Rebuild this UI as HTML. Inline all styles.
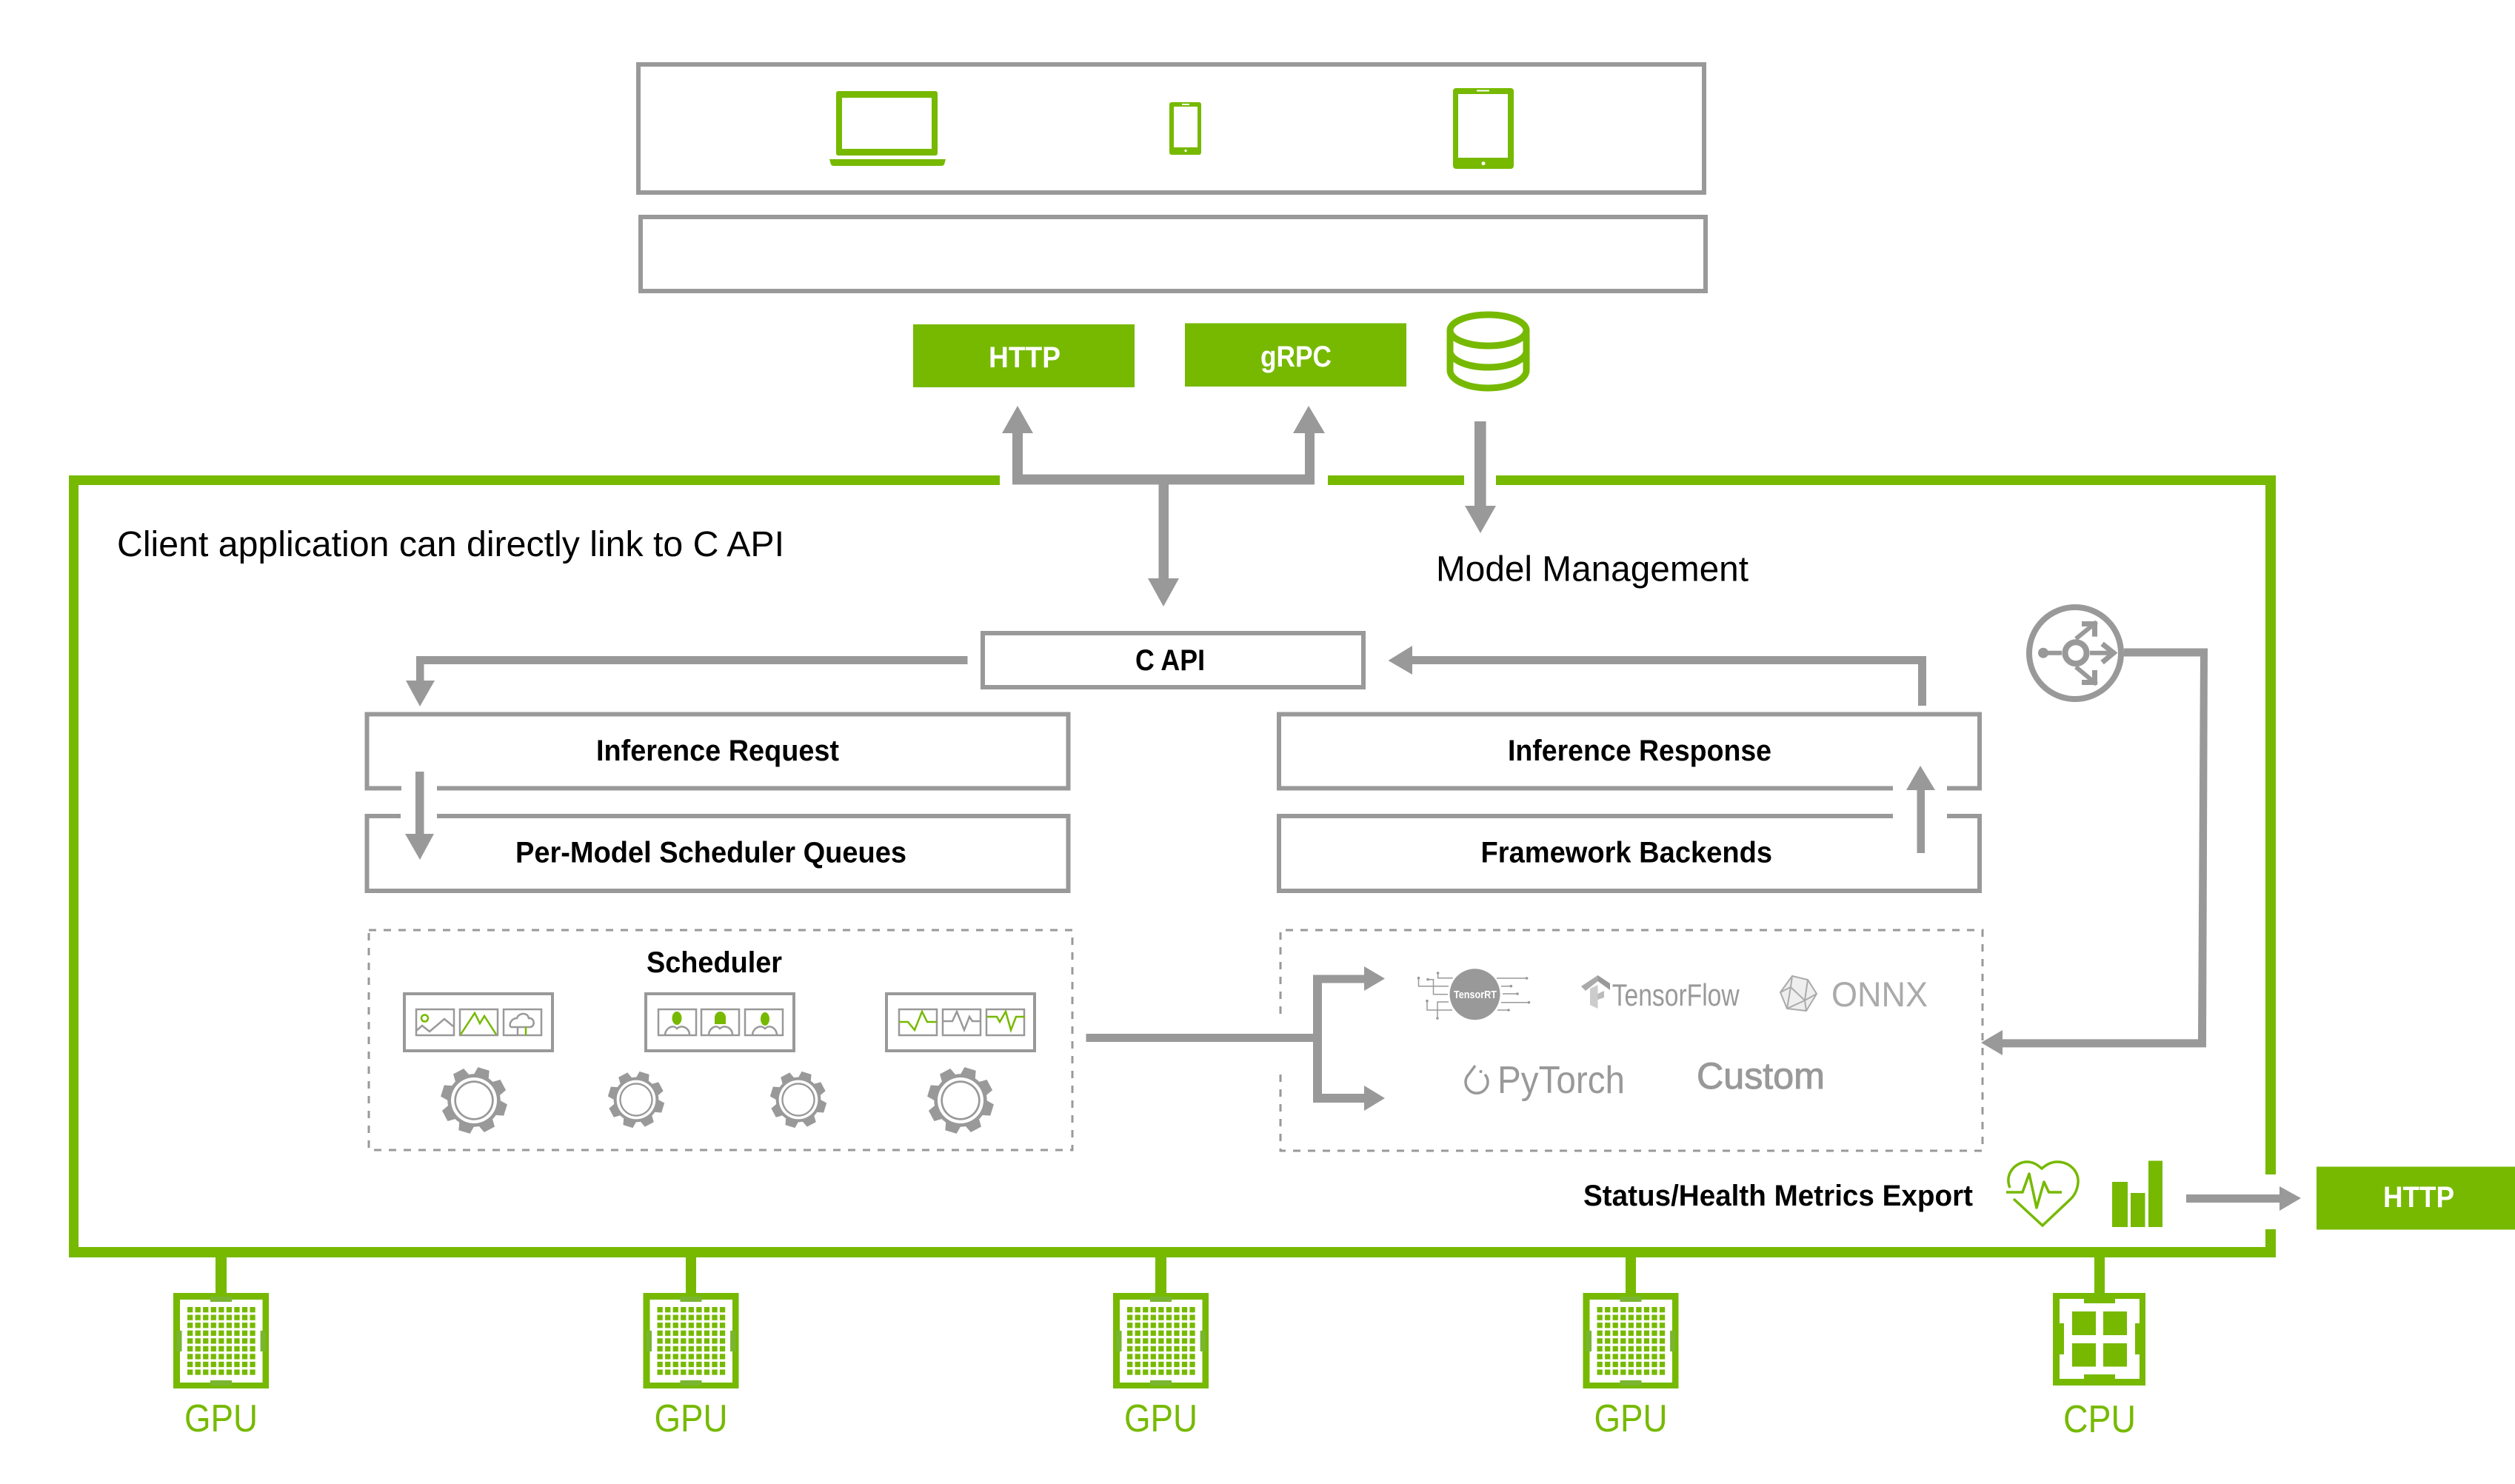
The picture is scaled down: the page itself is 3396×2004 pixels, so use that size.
<!DOCTYPE html>
<html><head><meta charset="utf-8"><style>
html,body{margin:0;padding:0;background:#fff}
svg{display:block}
text{font-family:"Liberation Sans",sans-serif}
.b{font-weight:bold;font-size:40px;fill:#000}
.r{font-size:48px;fill:#000}
.g{font-size:52px;fill:#76b900}
.w{font-weight:bold;font-size:40px;fill:#fff}
</style></head><body>
<svg width="3396" height="2004" viewBox="0 0 3396 2004" xmlns="http://www.w3.org/2000/svg">
<defs>
<pattern id="grid" patternUnits="userSpaceOnUse" x="253" y="1765" width="10.55" height="10.55"><rect width="7.3" height="7.3" fill="#76b900"/></pattern>
<g id="gpu">
 <rect x="234" y="1746" width="129" height="129" fill="#76b900"/>
 <rect x="243" y="1755" width="111.5" height="112" fill="#fff"/>
 <rect x="253" y="1765" width="92" height="92" fill="url(#grid)"/>
 <g fill="#7ab530"><rect x="284" y="1751" width="29" height="7"/><rect x="284" y="1864" width="29" height="7"/><rect x="238.5" y="1797" width="7" height="28"/><rect x="351.6" y="1797" width="7" height="28"/></g>
</g>
<polygon id="t" points="-10.5,-33 -8,-44.5 8,-44.5 10.5,-33" fill="#999"/>
<g id="gear">
 <use href="#t" transform="rotate(17)"/><use href="#t" transform="rotate(62)"/><use href="#t" transform="rotate(107)"/><use href="#t" transform="rotate(152)"/><use href="#t" transform="rotate(197)"/><use href="#t" transform="rotate(242)"/><use href="#t" transform="rotate(287)"/><use href="#t" transform="rotate(332)"/>
 <circle r="35.7" fill="#999"/><circle r="31" fill="#fff"/><circle r="26.7" fill="#999"/><circle r="24" fill="#fff"/>
</g>
</defs>
<rect width="3396" height="2004" fill="#fff"/>

<!-- top boxes -->
<g fill="none" stroke="#999" stroke-width="6">
 <rect x="862" y="87" width="1439" height="173"/>
 <rect x="865" y="293" width="1438" height="100"/>
</g>
<!-- devices -->
<g fill="#76b900">
 <rect x="1129" y="123" width="137" height="87" rx="3"/><rect x="1137" y="132" width="121" height="69" fill="#fff"/>
 <path d="M1120,215H1277L1275,222Q1274,224 1271,224H1126Q1123,224 1122,222Z"/>
 <rect x="1579" y="138" width="43" height="71" rx="3"/><rect x="1585" y="144" width="32" height="55" fill="#fff"/>
 <rect x="1596" y="140" width="10" height="2" fill="#fff"/><circle cx="1601" cy="203.5" r="1.6" fill="#fff"/>
 <rect x="1962" y="119" width="82" height="109" rx="4"/><rect x="1969" y="127" width="67" height="86" fill="#fff"/>
 <rect x="1994" y="121.500" width="17" height="2" fill="#fff"/><circle cx="2003" cy="220.700" r="2.500" fill="#fff"/>
</g>
<!-- HTTP/gRPC -->
<rect x="1233" y="438" width="299" height="85" fill="#76b900"/>
<rect x="1600" y="436.500" width="299" height="85.500" fill="#76b900"/>
<text class="w" x="1335" y="496" textLength="97" lengthAdjust="spacingAndGlyphs">HTTP</text>
<text class="w" x="1702" y="495" textLength="96" lengthAdjust="spacingAndGlyphs">gRPC</text>
<!-- DB -->
<g fill="none" stroke="#76b900" stroke-width="9">
 <ellipse cx="2009.500" cy="446" rx="51.500" ry="21"/>
 <path d="M1958,446V500A51.500,24 0 0 0 2061,500V446"/>
 <path d="M1958,474A51.500,22 0 0 0 2061,474"/>
</g>

<!-- outer green frame -->
<g fill="#76b900">
 <rect x="93" y="642" width="1257" height="13"/>
 <rect x="1793" y="642" width="184" height="13"/>
 <rect x="2020" y="642" width="1053" height="13"/>
 <rect x="93" y="642" width="13" height="1055"/>
 <rect x="93" y="1684" width="2980" height="14"/>
 <rect x="3059" y="642" width="14" height="944"/>
 <rect x="3059" y="1660" width="14" height="38"/>
 <rect x="291" y="1697" width="15" height="50"/>
 <rect x="926" y="1697" width="14" height="50"/>
 <rect x="1560" y="1697" width="15" height="50"/>
 <rect x="2195" y="1697" width="14" height="50"/>
 <rect x="2828" y="1697" width="14" height="50"/>
</g>

<!-- top arrows -->
<g fill="#999">
 <path d="M1367,585H1353L1374,548L1395,585H1381V640.600H1762V585H1746L1767,548L1789,585H1775V654.400H1578V781H1592L1571,819L1550,781H1564.500V654.400H1367Z"/>
 <path d="M1991,569H2006.600V683H2020L1999,720L1978,683H1991Z"/>
</g>

<text class="r" x="158" y="751" textLength="901" lengthAdjust="spacingAndGlyphs">Client application can directly link to C API</text>
<text class="r" x="1939" y="784.500" textLength="422" lengthAdjust="spacingAndGlyphs">Model Management</text>

<!-- boxes -->
<g fill="#fff" stroke="#999" stroke-width="6">
 <rect x="1327" y="855" width="514" height="73"/>
 <rect x="495.500" y="964.500" width="947" height="100"/>
 <rect x="495.500" y="1102" width="947" height="101"/>
 <rect x="1727" y="964.500" width="946" height="100"/>
 <rect x="1727" y="1102" width="946" height="101"/>
</g>
<g fill="#fff">
 <rect x="542" y="1058" width="48" height="12"/>
 <rect x="541" y="1096" width="49" height="12"/>
 <rect x="2556" y="1058" width="73" height="12"/>
 <rect x="2556" y="1096" width="73" height="12"/>
</g>
<text class="b" x="1533" y="905" textLength="94" lengthAdjust="spacingAndGlyphs">C API</text>
<text class="b" x="805" y="1027" textLength="328" lengthAdjust="spacingAndGlyphs">Inference Request</text>
<text class="b" x="696" y="1164.500" textLength="528" lengthAdjust="spacingAndGlyphs">Per-Model Scheduler Queues</text>
<text class="b" x="2036" y="1027" textLength="356" lengthAdjust="spacingAndGlyphs">Inference Response</text>
<text class="b" x="1999.500" y="1164.500" textLength="393.500" lengthAdjust="spacingAndGlyphs">Framework Backends</text>

<!-- arrows in inner -->
<g fill="#999">
 <path d="M1306.500,886V897H572.500V919H587L567,954L548,919H562V886Z"/>
 <path d="M561,1042H572.500V1126H586L567,1161L547,1126H561Z"/>
 <path d="M1874.500,892L1907,872V886H2601V953H2590V897H1907V911Z"/>
 <path d="M2588.500,1152V1067H2574L2593,1034L2613,1067H2599V1152Z"/>
 <path d="M1466.500,1396H1773V1316.500H1842V1305L1870,1321.500L1842,1338V1327.500H1785V1477H1842V1466L1870,1483L1842,1500V1489H1773V1407H1466.500Z"/>
 <path d="M2868,875.500H2981L2979,1414.400H2704V1425L2675,1408L2704,1391V1403.400H2968L2971,886.500H2868Z"/>
 <path d="M2952,1613H3078V1602L3107,1618L3078,1635V1624H2952Z"/>
</g>

<!-- dashed -->
<g fill="none" stroke="#999" stroke-width="3" stroke-dasharray="10 10">
 <rect x="498" y="1256" width="950" height="297"/>
 <path d="M1729,1369V1256H2677V1554H1729V1445"/>
</g>
<text class="b" x="873" y="1313" textLength="183" lengthAdjust="spacingAndGlyphs">Scheduler</text>

<!-- mini boxes -->
<g fill="none" stroke="#999" stroke-width="4">
 <rect x="546" y="1342" width="200" height="77"/>
 <rect x="872" y="1342" width="200" height="77"/>
 <rect x="1197" y="1342" width="200" height="77"/>
</g>
<g fill="none" stroke="#999" stroke-width="2.500">
 <rect x="562" y="1363" width="51" height="35"/><rect x="621" y="1363" width="51" height="35"/><rect x="680" y="1363" width="51" height="35"/>
 <rect x="889" y="1363" width="51" height="35"/><rect x="947" y="1363" width="51" height="35"/><rect x="1006" y="1363" width="51" height="35"/>
 <rect x="1214" y="1363" width="51" height="35"/><rect x="1273" y="1363" width="51" height="35"/><rect x="1332" y="1363" width="51" height="35"/>
</g>
<g fill="none" stroke-width="2.500" stroke="#999">
 <polyline points="562,1392 570,1385 580,1393 600,1376 612,1386"/>
 <circle cx="573.500" cy="1375" r="4.500" stroke="#76b900"/>
 <polyline points="622,1397 641,1368 648,1382 654,1372 670,1397" stroke="#76b900"/>
 <path d="M691,1387C686,1387 689,1375 698,1375C700,1368 712,1366 714,1375C722,1374 723,1386 716,1387Z"/>
 <line x1="699" y1="1387" x2="699" y2="1398"/>
 <line x1="710" y1="1387" x2="710" y2="1398" stroke="#76b900"/>
 <path d="M898,1397C899,1388 909,1383 914,1389C920,1383 931,1388 931,1397"/>
 <path d="M957,1397C958,1388 967,1383 972,1389C978,1383 989,1388 989,1397"/>
 <path d="M1016,1397C1017,1388 1027,1383 1033,1389C1039,1383 1048,1388 1049,1397"/>
 <polyline stroke="#76b900" points="1214,1380 1226,1380 1235,1391 1245,1366 1252,1380 1265,1380"/>
 <polyline points="1273,1379 1286,1379 1292,1366 1302,1391 1309,1373 1313,1379 1324,1379"/>
 <polyline stroke="#76b900" points="1333,1373 1346,1373 1350,1380 1358,1366 1365,1391 1372,1373 1384,1373"/>
</g>
<g fill="#76b900">
 <ellipse cx="914" cy="1375" rx="6.500" ry="9"/>
 <path d="M965,1383V1374A7.500,8 0 0 1 980,1374V1383Z"/>
 <ellipse cx="1033" cy="1376" rx="6" ry="9"/>
</g>
<use href="#gear" transform="translate(640 1486)"/>
<use href="#gear" transform="translate(859 1485) scale(.85)"/>
<use href="#gear" transform="translate(1078 1485) scale(.85)"/>
<use href="#gear" transform="translate(1297 1486)"/>

<!-- TensorRT -->
<g fill="none" stroke="#999" stroke-width="1.500">
 <path d="M1915.500,1320.700V1331.700H1956"/>
 <path d="M1928,1322.700H1935.500V1342.700H1955"/>
 <path d="M1941.600,1314V1320.700H1961.600"/>
 <path d="M1927,1351.700V1364H1961"/>
 <path d="M1941,1375V1353H1956"/>
 <path d="M2021,1321H2061.600M2027,1331.700H2040.400M2029,1342H2049M2027,1353.700H2064.500M2022,1364H2037"/>
</g>
<g fill="#999">
 <circle cx="1915.500" cy="1320.700" r="1.800"/><circle cx="1928" cy="1322.700" r="1.800"/><circle cx="1941.600" cy="1314" r="1.800"/><circle cx="1927" cy="1351.700" r="1.800"/><circle cx="1941" cy="1375" r="1.800"/>
 <circle cx="2061.600" cy="1321" r="1.800"/><circle cx="2040.400" cy="1331.700" r="1.800"/><circle cx="2049" cy="1342" r="1.800"/><circle cx="2064.500" cy="1353.700" r="1.800"/><circle cx="2037" cy="1364" r="1.800"/>
 <ellipse cx="1991.500" cy="1342.700" rx="34" ry="34.500"/>
</g>
<text x="1963" y="1348" font-size="15" font-weight="bold" fill="#fff" textLength="58" lengthAdjust="spacingAndGlyphs">TensorRT</text>

<!-- TensorFlow -->
<polygon points="2135,1332 2157.500,1317 2157.500,1325 2141,1338" fill="#aaa"/>
<polygon points="2157.500,1317 2174,1328 2174,1337 2157.500,1325" fill="#999"/>
<polygon points="2147,1335 2157.500,1330 2157.500,1362 2147,1357" fill="#ccc"/>
<polygon points="2157.500,1342 2166,1338 2166,1347 2157.500,1350" fill="#bbb"/>
<text x="2176.700" y="1358" font-size="42" fill="#999" textLength="172" lengthAdjust="spacingAndGlyphs">TensorFlow</text>

<!-- ONNX -->
<g stroke="#aaa" stroke-width="2" fill="#eee">
 <polygon points="2420,1318 2441,1323 2453,1342 2439,1365 2413,1362 2404,1340"/>
 <path d="M2420,1318L2418,1333L2404,1340M2418,1333L2437,1351L2441,1323M2418,1333L2413,1362M2437,1351L2413,1362M2437,1351L2439,1365M2437,1351L2453,1342" fill="none"/>
</g>
<text x="2473" y="1359" font-size="47" fill="#aaa" textLength="130" lengthAdjust="spacingAndGlyphs">ONNX</text>

<!-- PyTorch -->
<g fill="none" stroke="#999" stroke-width="3.500">
 <path d="M1992,1439L1983,1451A15,15 0 1 0 2005,1451"/>
</g>
<circle cx="1999.500" cy="1447" r="2" fill="#999"/>
<text x="2022" y="1476" font-size="52" fill="#999" textLength="172" lengthAdjust="spacingAndGlyphs">PyTorch</text>
<text x="2291" y="1470" font-size="50" fill="#999" stroke="#999" stroke-width="1" textLength="173" lengthAdjust="spacingAndGlyphs">Custom</text>

<!-- router -->
<g fill="none" stroke="#999">
 <ellipse cx="2802" cy="882" rx="62" ry="62" stroke-width="8"/>
 <circle cx="2803" cy="881.700" r="14.500" stroke-width="8"/>
 <path d="M2759,881.700H2784M2822,881.700H2854M2803,862.700L2831,840M2803,900.600L2831,924" stroke-width="6"/>
 <path d="M2838.600,869.400L2854,881.700L2838.600,894.500M2811,842.500H2828.500V859.600M2828.500,905V921.500H2811" stroke-width="7"/>
</g>
<circle cx="2759" cy="881.700" r="7" fill="#999"/>

<!-- status -->
<text class="b" x="2138" y="1628" textLength="526" lengthAdjust="spacingAndGlyphs">Status/Health Metrics Export</text>
<g fill="none" stroke="#76b900" stroke-width="3.500">
 <path d="M2714,1604C2706,1585 2722,1569 2737,1569C2746,1569 2751,1573 2757,1578C2763,1573 2769,1569 2778,1569C2795,1569 2807,1582 2806,1597C2805,1608 2800,1616 2794,1621L2758,1655L2719,1619"/>
 <polyline points="2709,1610 2731,1610 2740,1585 2750,1631 2760,1596 2766.500,1610 2784,1610" stroke-linejoin="round"/>
</g>
<g fill="#76b900">
 <rect x="2852" y="1596" width="21" height="61"/>
 <rect x="2877" y="1611" width="19.500" height="46"/>
 <rect x="2901" y="1567.500" width="19" height="89.500"/>
 <rect x="3128" y="1575.500" width="268" height="85"/>
</g>
<text class="w" x="3218" y="1630" textLength="96" lengthAdjust="spacingAndGlyphs">HTTP</text>

<!-- GPUs -->
<use href="#gpu"/>
<use href="#gpu" transform="translate(634.500 0)"/>
<use href="#gpu" transform="translate(1269 0)"/>
<use href="#gpu" transform="translate(1903.500 0)"/>
<text class="g" x="249" y="1933" textLength="99" lengthAdjust="spacingAndGlyphs">GPU</text>
<text class="g" x="883.500" y="1933" textLength="99" lengthAdjust="spacingAndGlyphs">GPU</text>
<text class="g" x="1518" y="1933" textLength="99" lengthAdjust="spacingAndGlyphs">GPU</text>
<text class="g" x="2152.500" y="1933" textLength="99" lengthAdjust="spacingAndGlyphs">GPU</text>

<!-- CPU -->
<g fill="#76b900">
 <rect x="2772" y="1746" width="125" height="125"/>
</g>
<rect x="2781" y="1754" width="108" height="108" fill="#fff"/>
<g fill="#76b900">
 <rect x="2814" y="1754" width="42" height="6"/><rect x="2814" y="1856" width="42" height="6"/>
 <rect x="2781" y="1787" width="6" height="42"/><rect x="2883" y="1787" width="6" height="42"/>
 <rect x="2798" y="1771" width="32" height="32"/><rect x="2840" y="1771" width="32" height="32"/>
 <rect x="2798" y="1814" width="32" height="31.500"/><rect x="2840" y="1814" width="32" height="31.500"/>
</g>
<text class="g" x="2786" y="1934" textLength="98" lengthAdjust="spacingAndGlyphs">CPU</text>
</svg>
</body></html>
